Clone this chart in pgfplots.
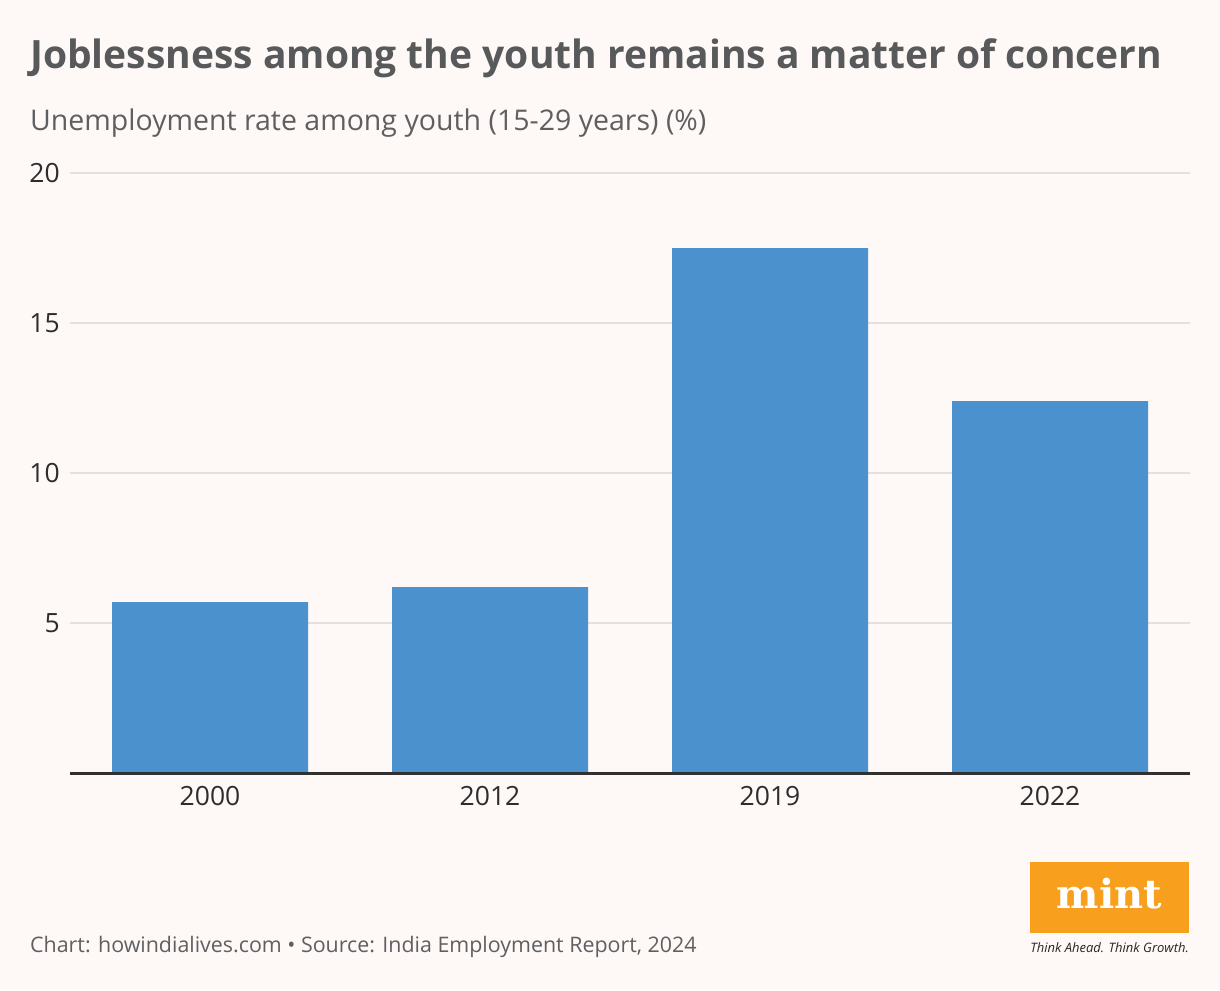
\documentclass[border=0pt]{standalone}
\usepackage{fontspec}
\setmainfont{Open Sans}
\newfontfamily\logofont{DejaVu Serif}
\usepackage{pgfplots}
\pgfplotsset{compat=1.18}

\definecolor{bg}{RGB}{254,248,247}
\definecolor{barblue}{RGB}{74,145,206}
\definecolor{gridgray}{RGB}{228,224,224}
\definecolor{titlegray}{RGB}{88,89,91}
\definecolor{subgray}{RGB}{95,95,98}
\definecolor{tickgray}{RGB}{45,45,45}
\definecolor{basedark}{RGB}{48,48,48}
\definecolor{mintorange}{RGB}{248,160,30}

\pgfplotstableread{
x year value
0 2000 5.7
1 2012 6.2
2 2019 17.5
3 2022 12.4
}\youthdata

\begin{document}
\begin{tikzpicture}
% page background
\fill[bg] (0pt,0pt) rectangle (1220pt,-990pt);

% headings
\node[anchor=base west, inner sep=0, text=titlegray] at (30pt,-68pt)
  {\fontsize{39}{44}\selectfont\bfseries Joblessness among the youth remains a matter of concern};
\node[anchor=base west, inner sep=0, text=subgray] at (30pt,-130pt)
  {\fontsize{28.5}{32}\selectfont Unemployment rate among youth (15-29 years) (\%)};

\begin{axis}[
  at={(70pt,-773pt)}, anchor=south west,
  width=1120pt, height=600pt, scale only axis,
  xmin=-0.5, xmax=3.5, ymin=0, ymax=20,
  axis x line*=bottom, axis y line*=left,
  x axis line style={draw=none},
  y axis line style={draw=none},
  major tick length=0pt,
  xtick=data,
  xticklabels={2000,2012,2019,2022},
  ytick={5,10,15,20},
  ymajorgrids,
  grid style={draw=gridgray, line width=1.3pt},
  yticklabel style={anchor=east, inner sep=0pt, xshift=-10pt, text=tickgray,
    font=\fontsize{26.5}{30}\selectfont},
  xticklabel style={anchor=north, inner sep=0pt, yshift=-13pt, text=tickgray,
    font=\fontsize{26.5}{30}\selectfont},
  /pgf/number format/assume math mode=true,
  clip=false,
]
\addplot[ybar, bar width=196pt, fill=barblue, draw=none]
  table[x=x, y=value] {\youthdata};
\draw[basedark, line width=3pt] (axis cs:-0.5,0) -- (axis cs:3.5,0);
\end{axis}

% footer
\node[anchor=base west, inner sep=0, text=subgray] at (30pt,-952pt)
  {\fontsize{21.4}{26}\selectfont Chart: howindialives.com \textbullet{} Source: India Employment Report, 2024};

% mint logo
\fill[mintorange] (1030pt,-862pt) rectangle (1189pt,-933pt);
\node[anchor=base, inner sep=0, text=white] at (1109.5pt,-908pt)
  {\logofont\fontsize{40}{44}\selectfont\bfseries mint};
\node[anchor=base east, inner sep=0, text=black!85] at (1189pt,-952pt)
  {\fontsize{13}{15}\selectfont\itshape Think Ahead. Think Growth.};
\end{tikzpicture}
\end{document}
